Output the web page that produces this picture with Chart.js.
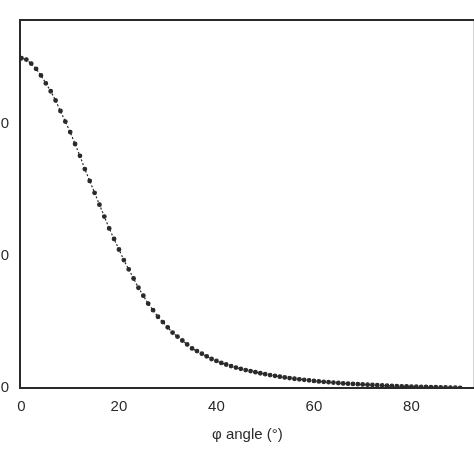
<!DOCTYPE html>
<html><head><meta charset="utf-8">
<script src="https://cdn.jsdelivr.net/npm/chart.js@4"></script>
<style>html,body{margin:0;padding:0;background:#fff;overflow:hidden}
#w{position:absolute;left:-40px;top:0;width:520px;height:474px}</style>
</head><body><div id="w"><canvas id="c"></canvas></div>
<script>
const angles = [];
for (let i = 0; i <= 90; i++) angles.push(i);
const intensity = [25.0,24.9,24.6,24.2,23.7,23.1,22.5,21.8,21.0,20.2,19.4,18.5,17.6,16.6,15.7,14.8,13.9,13.0,12.1,11.3,10.5,
9.7,9.0,8.3,7.6,7.0,6.4,5.9,5.4,5.0,4.6,4.2,3.9,3.6,3.3,3.0,2.8,2.6,2.4,2.2,2.05,
1.9,1.78,1.66,1.55,1.45,1.36,1.28,1.2,1.12,1.05,0.98,0.92,0.86,0.8,0.75,0.7,0.66,0.62,0.58,0.54,
0.5,0.47,0.44,0.41,0.38,0.35,0.33,0.31,0.29,0.27,0.25,0.23,0.21,0.19,0.17,0.15,0.14,0.13,0.12,0.11,
0.1,0.09,0.08,0.07,0.06,0.05,0.04,0.03,0.02,0.01];
const yTicks = [0,10,20];
const xTicks = [0,20,40,60,80];
const ink = '#2a2a2a';
new Chart(document.getElementById('c'), {
  type: 'line',
  data: { labels: angles, datasets: [{ data: angles.map((a,i)=>({x:a,y:intensity[i]})),
    borderColor: ink, borderWidth: 1.2, borderDash: [2,2], pointRadius: 1.8,
    pointBackgroundColor: ink, pointBorderColor: ink, tension: 0 }] },
  options: {
    animation: false, responsive: true, maintainAspectRatio: false,
    plugins: { legend: { display: false }, tooltip: { enabled: false } },
    layout: { padding: { top: 14, right: 0, left: 0, bottom: 0 } },
    scales: {
      x: { type: 'linear', min: -0.3, max: 93,
        afterBuildTicks: s => { s.ticks = xTicks.map(v=>({value:v})); },
        afterFit: s => { s.height = 86; },
        grid: { display: false, drawTicks: false },
        border: { color: ink, width: 2 },
        ticks: { color: ink, font: { family: 'Liberation Sans', size: 15 }, padding: 10 },
        title: { display: true, text: 'φ angle (°)', color: ink,
          font: { family: 'Liberation Sans', size: 15 }, padding: { top: 0, bottom: 30 } } },
      y: { min: 0, max: 27.9,
        afterBuildTicks: s => { s.ticks = yTicks.map(v=>({value:v})); },
        afterFit: s => { s.width = 60; },
        grid: { display: false, drawTicks: false },
        border: { color: ink, width: 2 },
        ticks: { color: ink, font: { family: 'Liberation Sans', size: 15 }, padding: 11,
          callback: v => String(v) } }
    }
  },
  plugins: [{ id: 'frame', afterDraw(ch) {
    const a = ch.chartArea, c = ch.ctx;
    c.save(); c.strokeStyle = ink; c.lineWidth = 2;
    c.beginPath(); c.moveTo(a.left, a.top); c.lineTo(a.right, a.top); c.lineTo(a.right, a.bottom); c.stroke();
    c.restore(); } }]
});
</script></body></html>
